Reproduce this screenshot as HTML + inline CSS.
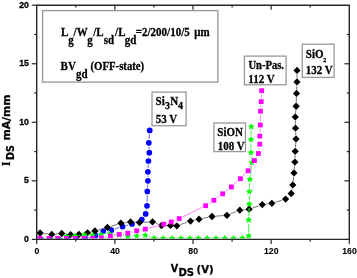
<!DOCTYPE html>
<html><head><meta charset="utf-8"><title>I-V breakdown plot</title>
<style>html,body{margin:0;padding:0;background:#fff;width:357px;height:278px;overflow:hidden}svg{display:block}</style>
</head><body>
<svg width="357" height="278" viewBox="0 0 357 278"><g font-family="Liberation Sans, Arial, sans-serif" font-weight="bold" font-size="8.7" fill="#000" stroke="#000" stroke-width="0.3"><text x="36.9" y="253.7" text-anchor="middle" stroke-width="0.1" transform="matrix(1 0 0 1.06 0 -15.22)">0</text><text x="115.1" y="253.7" text-anchor="middle" stroke-width="0.1" transform="matrix(1 0 0 1.06 0 -15.22)">40</text><text x="193.2" y="253.7" text-anchor="middle" stroke-width="0.1" transform="matrix(1 0 0 1.06 0 -15.22)">80</text><text x="271.3" y="253.7" text-anchor="middle" stroke-width="0.1" transform="matrix(1 0 0 1.06 0 -15.22)">120</text><text x="349.5" y="253.7" text-anchor="middle" stroke-width="0.1" transform="matrix(1 0 0 1.06 0 -15.22)">160</text><text x="28.9" y="241.9" text-anchor="end" transform="matrix(1 0 0 1.06 0 -14.51)">0</text><text x="28.9" y="183.4" text-anchor="end" transform="matrix(1 0 0 1.06 0 -11.00)">5</text><text x="28.9" y="124.8" text-anchor="end" transform="matrix(1 0 0 1.06 0 -7.49)">10</text><text x="28.9" y="66.2" text-anchor="end" transform="matrix(1 0 0 1.06 0 -3.97)">15</text><text x="28.9" y="7.7" text-anchor="end" transform="matrix(1 0 0 1.06 0 -0.46)">20</text></g>
<rect x="42.6" y="10.6" width="175.3" height="71.5" fill="none" stroke="#999" stroke-width="1.35"/>
<rect x="152.0" y="92.1" width="34.1" height="33.6" fill="#fff" stroke="#999" stroke-width="1.3"/>
<rect x="213.9" y="123.0" width="31.6" height="28.6" fill="#fff" stroke="#999" stroke-width="1.3"/>
<rect x="244.4" y="56.1" width="41.7" height="28.7" fill="#fff" stroke="#999" stroke-width="1.3"/>
<rect x="302.3" y="44.2" width="31.8" height="33.2" fill="#fff" stroke="#999" stroke-width="1.3"/>
<defs><clipPath id="pc"><rect x="36" y="0" width="314" height="238.6"/></clipPath></defs><g clip-path="url(#pc)">
<path d="M44.90 239.50L46.40 239.50M54.00 239.50L55.00 239.50M62.60 239.41L63.70 239.39M71.30 239.26L72.50 239.24M80.10 239.03L81.40 238.97M88.82 237.64L91.88 236.66M98.79 233.60L100.01 232.90M107.08 230.62L107.52 230.58M114.92 229.05L118.98 227.75M126.26 225.59L128.34 225.01M135.45 222.41L138.35 221.09M146.30 210.15L146.40 209.55M147.08 202.00L147.22 195.20M147.51 187.61L147.69 184.59M147.90 177.00L147.90 175.60M148.08 168.00L148.22 164.80M148.81 157.22L148.89 156.48M149.11 148.90L148.99 146.60M149.08 139.01L149.42 134.19" fill="none" stroke="#3344ff" stroke-width="0.8" opacity="1"/>
<g fill="#0000ff"><circle cx="41.1" cy="239.5" r="2.85"/><circle cx="50.2" cy="239.5" r="2.85"/><circle cx="58.8" cy="239.5" r="2.85"/><circle cx="67.5" cy="239.3" r="2.85"/><circle cx="76.3" cy="239.2" r="2.85"/><circle cx="85.2" cy="238.8" r="2.85"/><circle cx="95.5" cy="235.5" r="2.85"/><circle cx="103.3" cy="231.0" r="2.85"/><circle cx="111.3" cy="230.2" r="2.85"/><circle cx="122.6" cy="226.6" r="2.85"/><circle cx="132.0" cy="224.0" r="2.85"/><circle cx="141.8" cy="219.5" r="2.85"/><circle cx="145.7" cy="213.9" r="2.85"/><circle cx="147.0" cy="205.8" r="2.85"/><circle cx="147.3" cy="191.4" r="2.85"/><circle cx="147.9" cy="180.8" r="2.85"/><circle cx="147.9" cy="171.8" r="2.85"/><circle cx="148.4" cy="161.0" r="2.85"/><circle cx="149.3" cy="152.7" r="2.85"/><circle cx="148.8" cy="142.8" r="2.85"/><circle cx="149.7" cy="130.4" r="2.85"/></g>
<path d="M43.87 233.46L47.93 233.94M55.48 234.06L57.92 233.84M65.47 234.01L66.83 234.19M74.40 234.56L75.20 234.54M82.74 233.70L83.86 233.50M98.55 229.95L103.75 228.45M111.03 226.27L117.27 224.33M124.67 222.70L126.83 222.40M134.39 222.16L135.71 222.24M143.30 222.32L148.70 222.08M156.03 223.31L157.97 224.09M165.30 225.46L166.70 225.44M180.39 224.57L186.91 222.33M194.21 220.27L195.29 220.03M202.72 218.43L208.28 217.27M215.79 216.19L223.11 215.61M230.43 213.90L236.27 211.60M243.58 209.79L245.32 209.61M252.69 207.95L258.71 205.85M266.07 204.09L268.13 203.81M275.53 202.19L281.97 200.21M288.29 196.41L288.51 196.19M291.90 189.76L292.10 188.64M293.18 181.12L293.62 176.68M294.32 169.11L294.58 165.89M295.01 158.30L295.09 155.10M295.45 147.51L295.75 142.79M295.82 135.20L295.68 132.00M295.43 124.40L295.37 120.70M295.59 113.11L295.81 110.09M296.22 102.50L296.38 97.20M296.67 89.60L296.83 85.70M297.00 78.10L297.00 74.20" fill="none" stroke="#666" stroke-width="0.9" opacity="1"/>
<g fill="#000"><path d="M40.1 229.3L43.8 233.0L40.1 236.7L36.5 233.0Z"/><path d="M51.7 230.8L55.4 234.4L51.7 238.1L48.1 234.4Z"/><path d="M61.7 229.8L65.4 233.5L61.7 237.2L58.1 233.5Z"/><path d="M70.6 231.0L74.2 234.7L70.6 238.3L66.9 234.7Z"/><path d="M79.0 230.8L82.7 234.4L79.0 238.1L75.3 234.4Z"/><path d="M87.6 229.2L91.2 232.8L87.6 236.5L83.9 232.8Z"/><path d="M94.9 227.3L98.6 231.0L94.9 234.7L91.2 231.0Z"/><path d="M107.4 223.8L111.1 227.4L107.4 231.1L103.8 227.4Z"/><path d="M120.9 219.5L124.6 223.2L120.9 226.8L117.2 223.2Z"/><path d="M130.6 218.2L134.2 221.9L130.6 225.6L126.9 221.9Z"/><path d="M139.5 218.8L143.2 222.5L139.5 226.2L135.8 222.5Z"/><path d="M152.5 218.2L156.2 221.9L152.5 225.6L148.8 221.9Z"/><path d="M161.5 221.8L165.2 225.5L161.5 229.2L157.8 225.5Z"/><path d="M170.5 221.8L174.2 225.4L170.5 229.1L166.8 225.4Z"/><path d="M176.8 222.2L180.5 225.8L176.8 229.5L173.2 225.8Z"/><path d="M190.5 217.4L194.2 221.1L190.5 224.8L186.8 221.1Z"/><path d="M199.0 215.5L202.7 219.2L199.0 222.8L195.3 219.2Z"/><path d="M212.0 212.8L215.7 216.5L212.0 220.2L208.3 216.5Z"/><path d="M226.9 211.7L230.6 215.3L226.9 219.0L223.2 215.3Z"/><path d="M239.8 206.5L243.5 210.2L239.8 213.8L236.2 210.2Z"/><path d="M249.1 205.5L252.8 209.2L249.1 212.8L245.4 209.2Z"/><path d="M262.3 200.9L265.9 204.6L262.3 208.2L258.7 204.6Z"/><path d="M271.9 199.7L275.5 203.3L271.9 207.0L268.2 203.3Z"/><path d="M285.6 195.4L289.2 199.1L285.6 202.8L282.0 199.1Z"/><path d="M291.2 189.8L294.8 193.5L291.2 197.2L287.6 193.5Z"/><path d="M292.8 181.2L296.4 184.9L292.8 188.6L289.2 184.9Z"/><path d="M294.0 169.2L297.6 172.9L294.0 176.6L290.4 172.9Z"/><path d="M294.9 158.4L298.5 162.1L294.9 165.8L291.2 162.1Z"/><path d="M295.2 147.7L298.8 151.3L295.2 155.0L291.6 151.3Z"/><path d="M296.0 135.3L299.6 139.0L296.0 142.7L292.4 139.0Z"/><path d="M295.5 124.5L299.1 128.2L295.5 131.8L291.9 128.2Z"/><path d="M295.3 113.2L298.9 116.9L295.3 120.6L291.7 116.9Z"/><path d="M296.1 102.6L299.8 106.3L296.1 110.0L292.5 106.3Z"/><path d="M296.5 89.8L300.1 93.4L296.5 97.1L292.9 93.4Z"/><path d="M297.0 78.2L300.6 81.9L297.0 85.6L293.4 81.9Z"/><path d="M297.0 66.8L300.6 70.4L297.0 74.1L293.4 70.4Z"/></g>
<path d="M43.60 239.41L44.80 239.39M52.39 239.08L53.61 239.02M61.06 237.78L62.74 237.32M70.20 236.17L71.40 236.13M78.97 235.50L80.43 235.30M87.99 235.03L88.81 235.07M96.39 235.08L97.31 235.02M104.87 234.36L105.83 234.24M113.37 234.28L115.23 234.52M122.75 235.60L124.05 235.80M131.59 236.19L132.91 236.11M140.49 235.64L141.51 235.56M148.91 236.48L150.59 237.02M158.00 238.24L159.40 238.26M167.00 238.30L168.40 238.30M176.00 238.30L177.20 238.30M184.80 238.30L186.00 238.30M193.60 238.30L194.60 238.30M202.20 238.30L203.40 238.30M211.00 238.30L212.20 238.30M219.80 238.30L221.00 238.30M228.60 238.30L229.70 238.30M237.30 238.21L238.60 238.19M248.70 232.00L248.70 223.80M248.84 216.20L249.16 208.00M249.30 200.40L249.30 195.40M249.49 187.80L249.71 183.10M250.33 175.52L251.37 166.38M251.46 158.82L251.24 156.38M250.93 148.80L250.97 143.40M251.09 135.80L251.21 130.50" fill="none" stroke="#44ff44" stroke-width="1.0" opacity="1"/>
<g fill="#00ff00"><polygon points="39.80,236.00 40.83,238.08 43.13,238.42 41.46,240.04 41.86,242.33 39.80,241.25 37.74,242.33 38.14,240.04 36.47,238.42 38.77,238.08"/><polygon points="48.60,235.80 49.63,237.88 51.93,238.22 50.26,239.84 50.66,242.13 48.60,241.05 46.54,242.13 46.94,239.84 45.27,238.22 47.57,237.88"/><polygon points="57.40,235.30 58.43,237.38 60.73,237.72 59.06,239.34 59.46,241.63 57.40,240.55 55.34,241.63 55.74,239.34 54.07,237.72 56.37,237.38"/><polygon points="66.40,232.80 67.43,234.88 69.73,235.22 68.06,236.84 68.46,239.13 66.40,238.05 64.34,239.13 64.74,236.84 63.07,235.22 65.37,234.88"/><polygon points="75.20,232.50 76.23,234.58 78.53,234.92 76.86,236.54 77.26,238.83 75.20,237.75 73.14,238.83 73.54,236.54 71.87,234.92 74.17,234.58"/><polygon points="84.20,231.30 85.23,233.38 87.53,233.72 85.86,235.34 86.26,237.63 84.20,236.55 82.14,237.63 82.54,235.34 80.87,233.72 83.17,233.38"/><polygon points="92.60,231.80 93.63,233.88 95.93,234.22 94.26,235.84 94.66,238.13 92.60,237.05 90.54,238.13 90.94,235.84 89.27,234.22 91.57,233.88"/><polygon points="101.10,231.30 102.13,233.38 104.43,233.72 102.76,235.34 103.16,237.63 101.10,236.55 99.04,237.63 99.44,235.34 97.77,233.72 100.07,233.38"/><polygon points="109.60,230.30 110.63,232.38 112.93,232.72 111.26,234.34 111.66,236.63 109.60,235.55 107.54,236.63 107.94,234.34 106.27,232.72 108.57,232.38"/><polygon points="119.00,231.50 120.03,233.58 122.33,233.92 120.66,235.54 121.06,237.83 119.00,236.75 116.94,237.83 117.34,235.54 115.67,233.92 117.97,233.58"/><polygon points="127.80,232.90 128.83,234.98 131.13,235.32 129.46,236.94 129.86,239.23 127.80,238.15 125.74,239.23 126.14,236.94 124.47,235.32 126.77,234.98"/><polygon points="136.70,232.40 137.73,234.48 140.03,234.82 138.36,236.44 138.76,238.73 136.70,237.65 134.64,238.73 135.04,236.44 133.37,234.82 135.67,234.48"/><polygon points="145.30,231.80 146.33,233.88 148.63,234.22 146.96,235.84 147.36,238.13 145.30,237.05 143.24,238.13 143.64,235.84 141.97,234.22 144.27,233.88"/><polygon points="154.20,234.70 155.23,236.78 157.53,237.12 155.86,238.74 156.26,241.03 154.20,239.95 152.14,241.03 152.54,238.74 150.87,237.12 153.17,236.78"/><polygon points="163.20,234.80 164.23,236.88 166.53,237.22 164.86,238.84 165.26,241.13 163.20,240.05 161.14,241.13 161.54,238.84 159.87,237.22 162.17,236.88"/><polygon points="172.20,234.80 173.23,236.88 175.53,237.22 173.86,238.84 174.26,241.13 172.20,240.05 170.14,241.13 170.54,238.84 168.87,237.22 171.17,236.88"/><polygon points="181.00,234.80 182.03,236.88 184.33,237.22 182.66,238.84 183.06,241.13 181.00,240.05 178.94,241.13 179.34,238.84 177.67,237.22 179.97,236.88"/><polygon points="189.80,234.80 190.83,236.88 193.13,237.22 191.46,238.84 191.86,241.13 189.80,240.05 187.74,241.13 188.14,238.84 186.47,237.22 188.77,236.88"/><polygon points="198.40,234.80 199.43,236.88 201.73,237.22 200.06,238.84 200.46,241.13 198.40,240.05 196.34,241.13 196.74,238.84 195.07,237.22 197.37,236.88"/><polygon points="207.20,234.80 208.23,236.88 210.53,237.22 208.86,238.84 209.26,241.13 207.20,240.05 205.14,241.13 205.54,238.84 203.87,237.22 206.17,236.88"/><polygon points="216.00,234.80 217.03,236.88 219.33,237.22 217.66,238.84 218.06,241.13 216.00,240.05 213.94,241.13 214.34,238.84 212.67,237.22 214.97,236.88"/><polygon points="224.80,234.80 225.83,236.88 228.13,237.22 226.46,238.84 226.86,241.13 224.80,240.05 222.74,241.13 223.14,238.84 221.47,237.22 223.77,236.88"/><polygon points="233.50,234.80 234.53,236.88 236.83,237.22 235.16,238.84 235.56,241.13 233.50,240.05 231.44,241.13 231.84,238.84 230.17,237.22 232.47,236.88"/><polygon points="242.40,234.60 243.43,236.68 245.73,237.02 244.06,238.64 244.46,240.93 242.40,239.85 240.34,240.93 240.74,238.64 239.07,237.02 241.37,236.68"/><polygon points="248.70,232.30 249.73,234.38 252.03,234.72 250.36,236.34 250.76,238.63 248.70,237.55 246.64,238.63 247.04,236.34 245.37,234.72 247.67,234.38"/><polygon points="248.70,216.50 249.73,218.58 252.03,218.92 250.36,220.54 250.76,222.83 248.70,221.75 246.64,222.83 247.04,220.54 245.37,218.92 247.67,218.58"/><polygon points="249.30,200.70 250.33,202.78 252.63,203.12 250.96,204.74 251.36,207.03 249.30,205.95 247.24,207.03 247.64,204.74 245.97,203.12 248.27,202.78"/><polygon points="249.30,188.10 250.33,190.18 252.63,190.52 250.96,192.14 251.36,194.43 249.30,193.35 247.24,194.43 247.64,192.14 245.97,190.52 248.27,190.18"/><polygon points="249.90,175.80 250.93,177.88 253.23,178.22 251.56,179.84 251.96,182.13 249.90,181.05 247.84,182.13 248.24,179.84 246.57,178.22 248.87,177.88"/><polygon points="251.80,159.10 252.83,161.18 255.13,161.52 253.46,163.14 253.86,165.43 251.80,164.35 249.74,165.43 250.14,163.14 248.47,161.52 250.77,161.18"/><polygon points="250.90,149.10 251.93,151.18 254.23,151.52 252.56,153.14 252.96,155.43 250.90,154.35 248.84,155.43 249.24,153.14 247.57,151.52 249.87,151.18"/><polygon points="251.00,136.10 252.03,138.18 254.33,138.52 252.66,140.14 253.06,142.43 251.00,141.35 248.94,142.43 249.34,140.14 247.67,138.52 249.97,138.18"/><polygon points="251.30,123.20 252.33,125.28 254.63,125.62 252.96,127.24 253.36,129.53 251.30,128.45 249.24,129.53 249.64,127.24 247.97,125.62 250.27,125.28"/></g>
<path d="M43.70 238.40L45.20 238.40M52.80 238.40L53.80 238.40M61.40 238.40L62.50 238.40M70.10 238.40L71.30 238.40M78.90 238.36L80.20 238.34M87.80 238.26L89.10 238.24M96.70 238.02L97.60 237.98M105.13 237.05L106.67 236.75M114.14 235.32L115.46 235.08M122.97 233.92L124.03 233.78M131.46 232.27L133.04 231.83M140.43 230.06L141.57 229.84M148.97 228.13L160.13 225.17M174.79 220.50L175.71 220.10M182.61 216.93L202.19 207.37M208.79 203.63L210.71 202.37M216.94 198.03L219.56 196.07M225.59 191.46L228.41 189.24M234.21 184.34L237.59 181.26M243.04 175.96L245.46 173.44M250.11 167.48L252.39 163.82M256.27 157.29L256.53 156.81M258.97 149.74L259.23 147.96M259.80 140.40L259.80 139.90M259.97 132.30L260.13 128.80M260.36 121.20L260.44 115.00M260.78 107.41L260.92 105.39M261.37 97.80L261.53 94.50" fill="none" stroke="#ff70ff" stroke-width="0.9" opacity="1"/>
<g fill="#ff00ff"><rect x="37.5" y="236.0" width="4.8" height="4.8"/><rect x="46.6" y="236.0" width="4.8" height="4.8"/><rect x="55.2" y="236.0" width="4.8" height="4.8"/><rect x="63.9" y="236.0" width="4.8" height="4.8"/><rect x="72.7" y="236.0" width="4.8" height="4.8"/><rect x="81.6" y="235.9" width="4.8" height="4.8"/><rect x="90.5" y="235.8" width="4.8" height="4.8"/><rect x="99.0" y="235.4" width="4.8" height="4.8"/><rect x="108.0" y="233.6" width="4.8" height="4.8"/><rect x="116.8" y="232.0" width="4.8" height="4.8"/><rect x="125.4" y="230.9" width="4.8" height="4.8"/><rect x="134.3" y="228.4" width="4.8" height="4.8"/><rect x="142.9" y="226.7" width="4.8" height="4.8"/><rect x="161.4" y="221.8" width="4.8" height="4.8"/><rect x="168.9" y="219.6" width="4.8" height="4.8"/><rect x="176.8" y="216.2" width="4.8" height="4.8"/><rect x="203.2" y="203.3" width="4.8" height="4.8"/><rect x="211.5" y="197.9" width="4.8" height="4.8"/><rect x="220.2" y="191.4" width="4.8" height="4.8"/><rect x="229.0" y="184.5" width="4.8" height="4.8"/><rect x="238.0" y="176.3" width="4.8" height="4.8"/><rect x="245.7" y="168.3" width="4.8" height="4.8"/><rect x="252.0" y="158.2" width="4.8" height="4.8"/><rect x="256.0" y="151.1" width="4.8" height="4.8"/><rect x="257.4" y="141.8" width="4.8" height="4.8"/><rect x="257.4" y="133.7" width="4.8" height="4.8"/><rect x="257.9" y="122.6" width="4.8" height="4.8"/><rect x="258.1" y="108.8" width="4.8" height="4.8"/><rect x="258.8" y="99.2" width="4.8" height="4.8"/><rect x="259.3" y="88.3" width="4.8" height="4.8"/></g>
</g>
<g stroke="#262626" stroke-width="1.2"><rect x="36.7" y="5.2" width="312.6" height="234.20000000000002" fill="none" stroke="#262626" stroke-width="1.4" stroke-linejoin="round"/><line x1="36.70" y1="239.4" x2="36.70" y2="244.0"/><line x1="75.78" y1="239.4" x2="75.78" y2="241.8"/><line x1="75.78" y1="5.2" x2="75.78" y2="7.6"/><line x1="114.85" y1="239.4" x2="114.85" y2="244.0"/><line x1="114.85" y1="5.2" x2="114.85" y2="9.8"/><line x1="153.93" y1="239.4" x2="153.93" y2="241.8"/><line x1="153.93" y1="5.2" x2="153.93" y2="7.6"/><line x1="193.00" y1="239.4" x2="193.00" y2="244.0"/><line x1="193.00" y1="5.2" x2="193.00" y2="9.8"/><line x1="232.08" y1="239.4" x2="232.08" y2="241.8"/><line x1="232.08" y1="5.2" x2="232.08" y2="7.6"/><line x1="271.15" y1="239.4" x2="271.15" y2="244.0"/><line x1="271.15" y1="5.2" x2="271.15" y2="9.8"/><line x1="310.22" y1="239.4" x2="310.22" y2="241.8"/><line x1="310.22" y1="5.2" x2="310.22" y2="7.6"/><line x1="349.30" y1="239.4" x2="349.30" y2="244.0"/><line x1="31.800000000000004" y1="239.40" x2="36.7" y2="239.40"/><line x1="34.2" y1="210.12" x2="36.7" y2="210.12"/><line x1="346.8" y1="210.12" x2="349.3" y2="210.12"/><line x1="31.800000000000004" y1="180.85" x2="36.7" y2="180.85"/><line x1="344.40000000000003" y1="180.85" x2="349.3" y2="180.85"/><line x1="34.2" y1="151.57" x2="36.7" y2="151.57"/><line x1="346.8" y1="151.57" x2="349.3" y2="151.57"/><line x1="31.800000000000004" y1="122.30" x2="36.7" y2="122.30"/><line x1="344.40000000000003" y1="122.30" x2="349.3" y2="122.30"/><line x1="34.2" y1="93.03" x2="36.7" y2="93.03"/><line x1="346.8" y1="93.03" x2="349.3" y2="93.03"/><line x1="31.800000000000004" y1="63.75" x2="36.7" y2="63.75"/><line x1="344.40000000000003" y1="63.75" x2="349.3" y2="63.75"/><line x1="34.2" y1="34.47" x2="36.7" y2="34.47"/><line x1="346.8" y1="34.47" x2="349.3" y2="34.47"/><line x1="31.800000000000004" y1="5.20" x2="36.7" y2="5.20"/></g>
<g fill="#000" stroke="#000" stroke-width="0.25">
<text x="61" y="35.6" font-size="11" font-family="Liberation Serif, Times New Roman, serif" font-weight="bold" transform="matrix(1 0 0 1.09 0 -3.20)">L</text>
<text x="68.2" y="43.8" font-size="11" font-family="Liberation Serif, Times New Roman, serif" font-weight="bold" transform="matrix(1 0 0 1.09 0 -3.94)">g</text>
<text x="73.6" y="35.6" font-size="11" font-family="Liberation Serif, Times New Roman, serif" font-weight="bold" transform="matrix(1 0 0 1.09 0 -3.20)">/W</text>
<text x="87.3" y="43.8" font-size="11" font-family="Liberation Serif, Times New Roman, serif" font-weight="bold" transform="matrix(1 0 0 1.09 0 -3.94)">g</text>
<text x="93.2" y="35.6" font-size="11" font-family="Liberation Serif, Times New Roman, serif" font-weight="bold" transform="matrix(1 0 0 1.09 0 -3.20)">/L</text>
<text x="103.8" y="43.8" font-size="11" font-family="Liberation Serif, Times New Roman, serif" font-weight="bold" transform="matrix(1 0 0 1.09 0 -3.94)">sd</text>
<text x="115.1" y="35.6" font-size="11" font-family="Liberation Serif, Times New Roman, serif" font-weight="bold" transform="matrix(1 0 0 1.09 0 -3.20)">/L</text>
<text x="124.7" y="43.8" font-size="11" font-family="Liberation Serif, Times New Roman, serif" font-weight="bold" transform="matrix(1 0 0 1.09 0 -3.94)">gd</text>
<text x="135.8" y="35.6" font-size="11" font-family="Liberation Serif, Times New Roman, serif" font-weight="bold" transform="matrix(1 0 0 1.09 0 -3.20)">=2/200/10/5</text>
<text x="194.3" y="35.6" font-size="11" font-family="Liberation Serif, Times New Roman, serif" font-weight="bold" transform="matrix(1 0 0 1.09 0 -3.20)">μm</text>
<text x="60.6" y="70.3" font-size="11" font-family="Liberation Serif, Times New Roman, serif" font-weight="bold" transform="matrix(1 0 0 1.09 0 -6.33)">BV</text>
<text x="76.0" y="78.3" font-size="11" font-family="Liberation Serif, Times New Roman, serif" font-weight="bold" transform="matrix(1 0 0 1.09 0 -7.05)">gd</text>
<text x="90.5" y="70.3" font-size="10.75" font-family="Liberation Serif, Times New Roman, serif" font-weight="bold" transform="matrix(1 0 0 1.115 0 -8.08)">(OFF-state)</text>
<text x="155.6" y="104.7" font-size="11" font-family="Liberation Serif, Times New Roman, serif" font-weight="bold" transform="matrix(1 0 0 1.09 0 -9.42)">Si</text>
<text x="165.1" y="109.0" font-size="10" font-family="Liberation Serif, Times New Roman, serif" font-weight="bold" transform="matrix(1 0 0 1.09 0 -9.81)">3</text>
<text x="170.2" y="104.9" font-size="11" font-family="Liberation Serif, Times New Roman, serif" font-weight="bold" transform="matrix(1 0 0 1.09 0 -9.44)">N</text>
<text x="178.1" y="109.0" font-size="10" font-family="Liberation Serif, Times New Roman, serif" font-weight="bold" transform="matrix(1 0 0 1.09 0 -9.81)">4</text>
<text x="155.8" y="123.1" font-size="11" font-family="Liberation Serif, Times New Roman, serif" font-weight="bold" transform="matrix(1 0 0 1.09 0 -11.08)">53 V</text>
<text x="217.3" y="136.2" font-size="11" font-family="Liberation Serif, Times New Roman, serif" font-weight="bold" transform="matrix(1 0 0 1.09 0 -12.26)">SiON</text>
<text x="217.7" y="149.6" font-size="11" font-family="Liberation Serif, Times New Roman, serif" font-weight="bold" transform="matrix(1 0 0 1.09 0 -13.46)">108 V</text>
<text x="248.3" y="82.6" font-size="11" font-family="Liberation Serif, Times New Roman, serif" font-weight="bold" transform="matrix(1 0 0 1.09 0 -7.43)">112 V</text>
<text x="305.8" y="57.6" font-size="11" font-family="Liberation Serif, Times New Roman, serif" font-weight="bold" transform="matrix(1 0 0 1.09 0 -5.18)">SiO</text>
<text x="323.3" y="62.3" font-size="6" font-family="Liberation Serif, Times New Roman, serif" font-weight="bold" transform="matrix(1 0 0 1.09 0 -5.61)">2</text>
<text x="305.8" y="74.5" font-size="11" font-family="Liberation Serif, Times New Roman, serif" font-weight="bold" transform="matrix(1 0 0 1.09 0 -6.71)">132 V</text>
<text x="248.4" y="69.4" font-size="10.6" font-family="Liberation Serif, Times New Roman, serif" font-weight="bold" transform="matrix(1 0 0 1.13 0 -9.02)">Un-Pas.</text>
<text x="170.8" y="271.8" font-size="9.6" font-family="DejaVu Sans, Verdana, sans-serif" font-weight="bold" transform="matrix(1 0 0 1.09 0 -24.46)">V</text>
<text x="178.5" y="276.2" font-size="10.1" font-family="DejaVu Sans, Verdana, sans-serif" font-weight="bold" transform="matrix(1 0 0 1.09 0 -24.86)">DS</text>
<text x="196.6" y="272.5" font-size="10.1" font-family="DejaVu Sans, Verdana, sans-serif" font-weight="bold" transform="matrix(1 0 0 1.0 0 0.00)">(V)</text>
<g transform="translate(10.2,166.2) rotate(-90)"><text font-family="Liberation Serif, Times New Roman, serif" font-weight="bold" font-size="12" x="0" y="0">I</text><text font-family="DejaVu Sans, Verdana, sans-serif" font-weight="bold" font-size="9.6" x="6.2" y="3.5">DS</text><text font-family="DejaVu Sans, Verdana, sans-serif" font-weight="bold" font-size="10.8" x="25.6" y="-0.4">mA/mm</text></g>
</g></svg>
</body></html>
